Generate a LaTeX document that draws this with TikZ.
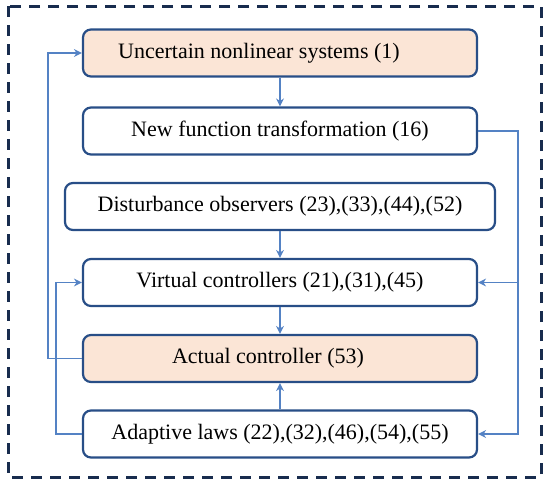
\documentclass[tikz,border=0pt]{standalone}
\usepackage{fontspec}
\setmainfont{Liberation Serif}
\usepackage{tikz}
\usetikzlibrary{arrows.meta,shapes,positioning}
\usepackage{xcolor}
\definecolor{boxblue}{RGB}{40,78,135}
\definecolor{linkblue}{RGB}{84,130,196}
\definecolor{framenavy}{RGB}{24,44,78}
\definecolor{peach}{RGB}{251,229,214}
\tikzstyle{arrow} = [line width=1.9pt,->,>={Stealth[length=8pt,width=8pt]},color=linkblue]
\tikzstyle{stage} = [rectangle, rounded corners=8pt, minimum width=394pt, minimum height=47pt, inner sep=0pt, text centered, draw=boxblue, fill=white, line width=2.2pt, font=\fontsize{22}{26}\selectfont]
\tikzstyle{plant} = [stage, fill=peach]
\tikzstyle{frame} = [line width=3pt, color=framenavy, dash pattern=on 11pt off 8pt]

\begin{document}
\begin{tikzpicture}
\useasboundingbox (0,0) rectangle (550pt,-483pt);
% outer frame
\draw[frame] (8pt,-6pt) rectangle (541pt,-477pt);

% Blocks
\node (system) [plant] at (280pt,-53pt) {\hspace*{-42pt}Uncertain nonlinear systems (1)};
\node (transform) [stage, below of=system, node distance=78pt] {New function transformation (16)};
\node (observer) [stage, below of=transform, node distance=75.5pt, minimum width=430pt] {Disturbance observers (23),(33),(44),(52)};
\node (virtual) [stage, below of=observer, node distance=76pt] {Virtual controllers (21),(31),(45)};
\node (actual) [plant, below of=virtual, node distance=76pt] {\hspace*{-24pt}Actual controller (53)};
\node (adaptive) [stage, below of=actual, node distance=75.5pt] {Adaptive laws (22),(32),(46),(54),(55)};

% Straight links
\draw[arrow] (system) -- (transform);
\draw[arrow] (observer) -- (virtual);
\draw[arrow] (virtual) -- (actual);
\draw[arrow] (adaptive) -- (actual);

% Feedback loops
\draw[arrow] (actual.west) -- ++(-34pt,0) |- (system.west);
\draw[arrow] (adaptive.west) -- ++(-26pt,0) |- (virtual.west);
\draw[arrow] (transform.east) -- ++(40pt,0) |- (adaptive.east);
\draw[arrow] (transform.east) -- ++(40pt,0) |- (virtual.east);
\end{tikzpicture}
\end{document}
